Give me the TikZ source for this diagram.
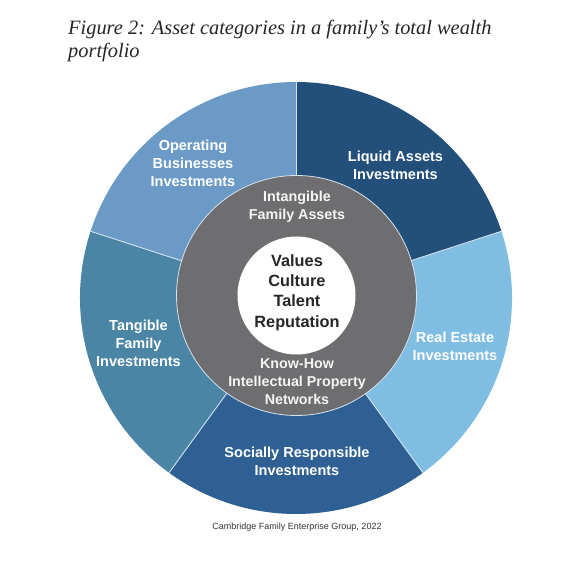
\documentclass[tikz,border=0pt]{standalone}
\usepackage{fontspec}
\setmainfont{Liberation Sans}
\newfontfamily\titlefont{Liberation Serif}
\definecolor{opcol}{HTML}{6B9AC7}
\definecolor{liqcol}{HTML}{234F7B}
\definecolor{recol}{HTML}{7FBEE2}
\definecolor{socol}{HTML}{2F6094}
\definecolor{tancol}{HTML}{4A85A6}
\definecolor{ringgray}{HTML}{6E6E70}
\definecolor{divcol}{HTML}{D6E2EC}
\definecolor{captioncol}{HTML}{333333}
\begin{document}
\begin{tikzpicture}[x=1pt,y=1pt,
  seglabel/.style={text=white,font=\fontsize{14.5}{18}\selectfont\bfseries,align=center,inner sep=0pt},
  ringlabel/.style={text=white!92!gray,font=\fontsize{14.3}{17.8}\selectfont\bfseries,align=center,inner sep=0pt},
  corelabel/.style={text=black!85,font=\fontsize{16.3}{20.4}\selectfont\bfseries,align=center,inner sep=0pt},
  divider/.style={draw=divcol,line width=0.9pt},
  sector/.style={draw=none}]
\useasboundingbox (0,0) rectangle (586,586);
\fill[white] (0,0) rectangle (586,586);
% title
\node[anchor=base west,align=left,inner sep=0pt,font=\titlefont\itshape\fontsize{20.4}{23}\selectfont,text=black!85] (title) at (68,528)
  {Figure 2: Asset categories in a family’s total wealth\\portfolio};
% outer ring sectors
\begin{scope}[shift={(296,288)}]
  \fill[opcol]  (0,0) -- (90:216)  arc[start angle=90, end angle=162,radius=216] -- cycle;
  \fill[tancol] (0,0) -- (162:216) arc[start angle=162,end angle=234,radius=216] -- cycle;
  \fill[socol]  (0,0) -- (234:216) arc[start angle=234,end angle=306,radius=216] -- cycle;
  \fill[recol]  (0,0) -- (306:216) arc[start angle=306,end angle=378,radius=216] -- cycle;
  \fill[liqcol] (0,0) -- (18:216)  arc[start angle=18, end angle=90, radius=216] -- cycle;
  \foreach \a in {18,90,162,234,306} \draw[divider] (\a:100) -- (\a:216);
\end{scope}
% inner ring and core
\begin{scope}[shift={(296.5,290.5)}]
  \fill[ringgray] (0,0) circle[radius=120];
  \draw[divcol,line width=0.8pt] (0,0) circle[radius=120];
  \fill[white] (0,0) circle[radius=59];
\end{scope}
% labels
\node[seglabel] (oper) at (193,423) {Operating\\Businesses\\Investments};
\node[seglabel] (liq) at (395.5,421) {Liquid Assets\\Investments};
\node[seglabel] (real) at (455,239.5) {Real Estate\\Investments};
\node[seglabel] (soc) at (297,125) {Socially Responsible\\Investments};
\node[seglabel] (tang) at (138.5,243) {Tangible\\Family\\Investments};
\node[ringlabel] (intang) at (297,379) {Intangible\\Family Assets};
\node[ringlabel] (know) at (297,204.5) {Know-How\\Intellectual Property\\Networks};
\node[corelabel] (core) at (297,293.5) {Values\\Culture\\Talent\\Reputation};
\node[text=captioncol,font=\fontsize{9}{11}\selectfont,inner sep=0pt] (caption) at (297,59) {Cambridge Family Enterprise Group, 2022};
\end{tikzpicture}
\end{document}
